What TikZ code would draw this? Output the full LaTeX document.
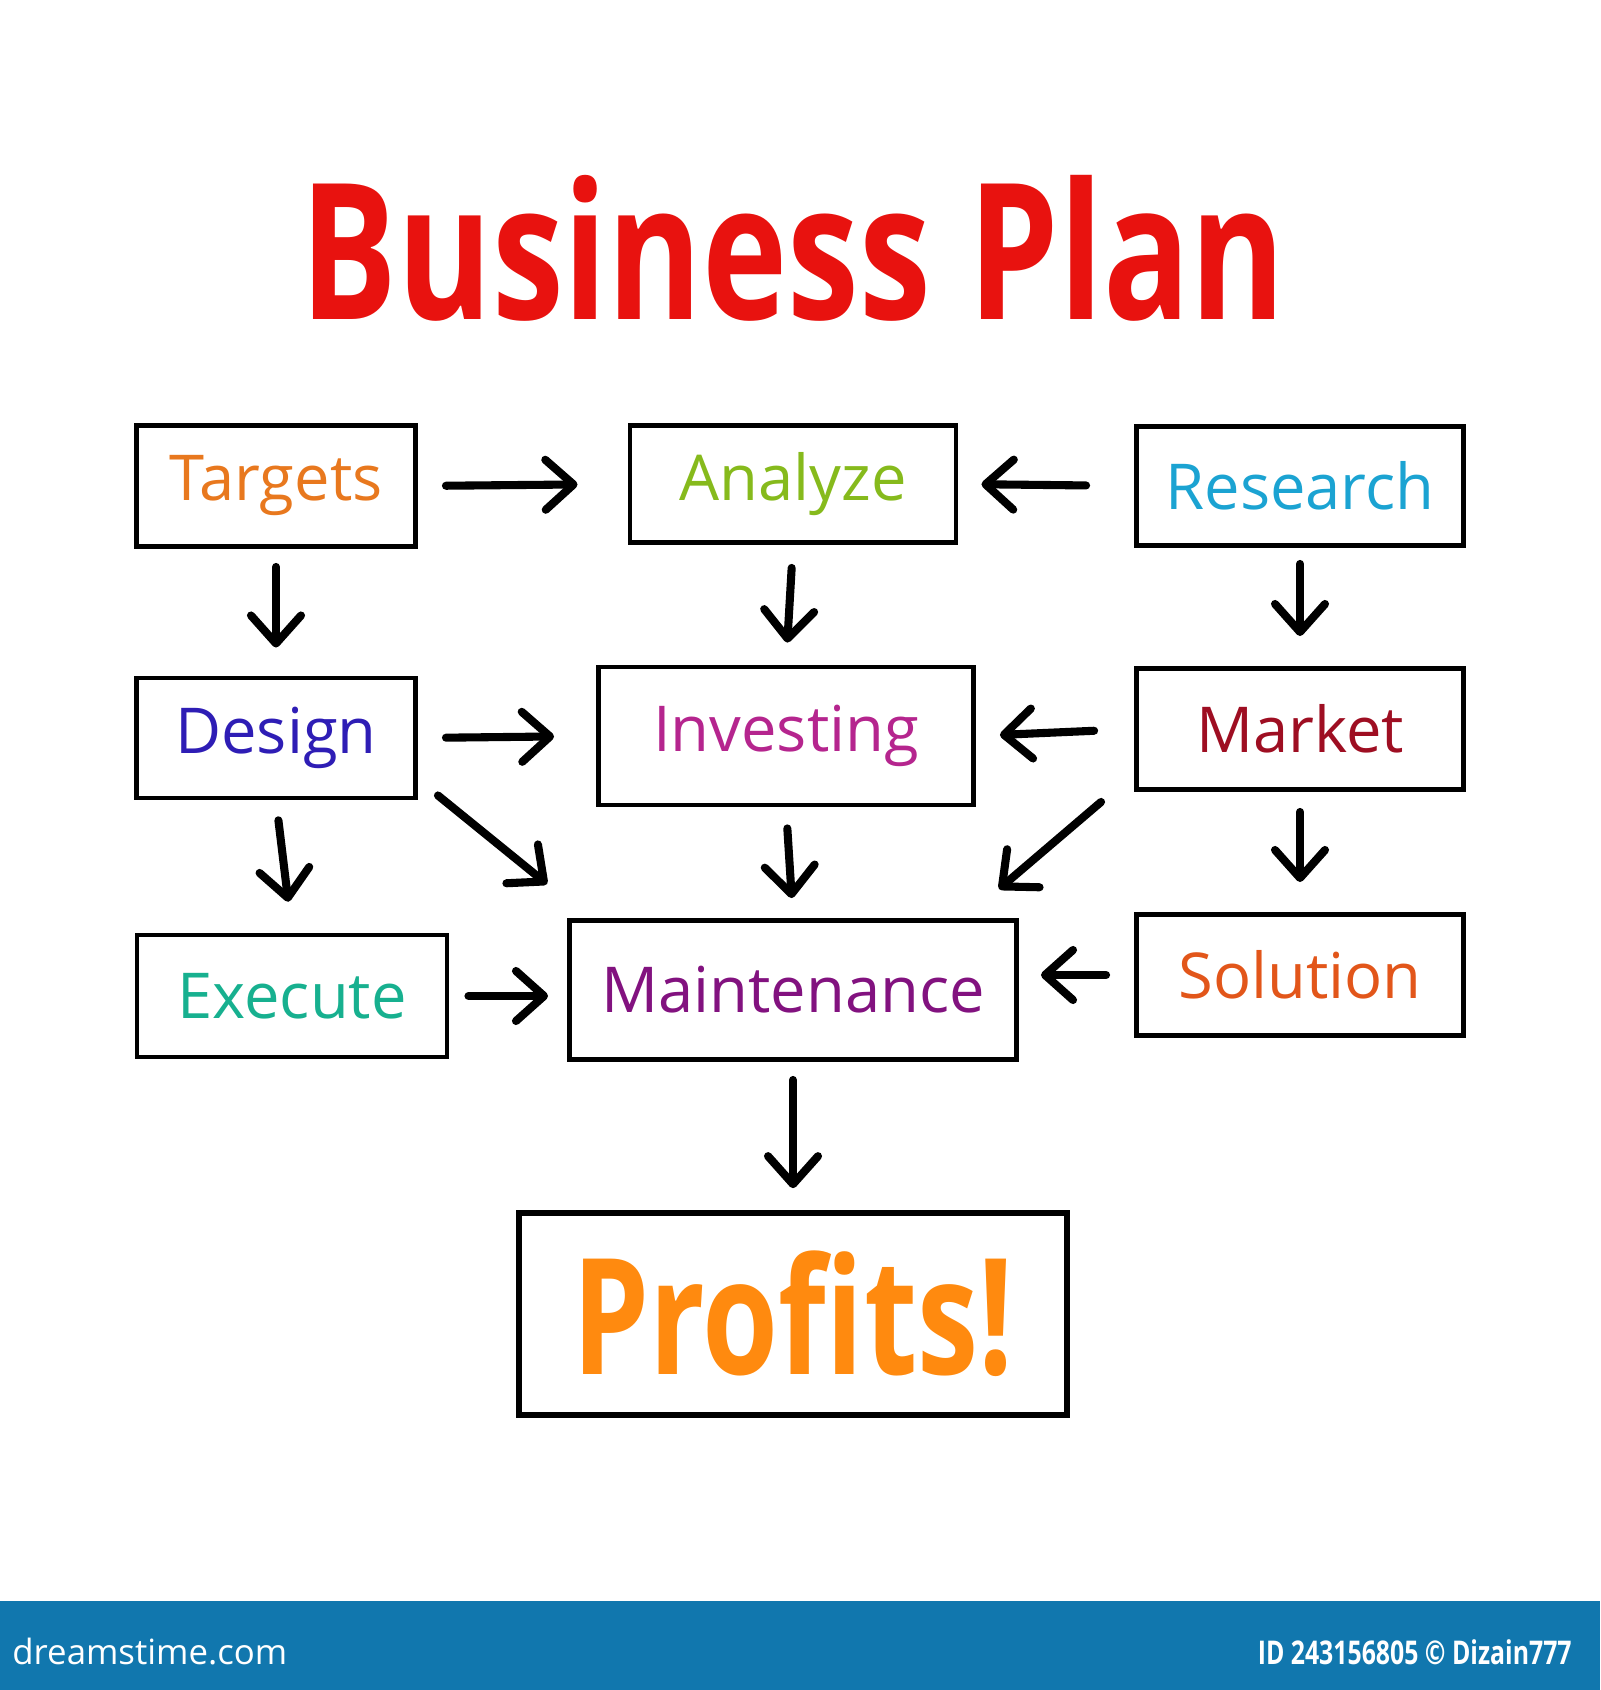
\documentclass[tikz,border=0pt]{standalone}
\usepackage{fontspec}
\usepackage{graphicx}
\setmainfont{Open Sans}
\usetikzlibrary{arrows.meta}

\definecolor{titlered}{HTML}{E8120F}
\definecolor{targetsorange}{HTML}{E8781E}
\definecolor{analyzegreen}{HTML}{86BA1C}
\definecolor{researchblue}{HTML}{1BA3D2}
\definecolor{designblue}{HTML}{2E1DB5}
\definecolor{investmagenta}{HTML}{B5258E}
\definecolor{marketred}{HTML}{9E0E22}
\definecolor{executeteal}{HTML}{17B08F}
\definecolor{maintpurple}{HTML}{82127F}
\definecolor{solutionorange}{HTML}{E2561A}
\definecolor{profitorange}{HTML}{FF8A0F}
\definecolor{barblue}{HTML}{1177AE}

\newcommand{\narrowtext}[1]{\scalebox{0.76}[1]{#1}}

\begin{document}
\begin{tikzpicture}[
    box/.style={draw=black, line width=1.4pt, inner sep=0pt, font=\fontsize{18}{20}\selectfont},
    arr/.style={line width=2.3pt, line cap=round, line join=round, -{Straight Barb[length=2.8mm,width=5mm,round]}}
  ]
    \useasboundingbox (0,0) rectangle (16,-16.9);

    % Title
    \node[anchor=base, text=titlered, font=\fontsize{54}{60}\selectfont\bfseries] (title) at (7.93,-3.2) {\narrowtext{Business Plan}};

    % First row
    \node[box, text=targetsorange, minimum width=2.79cm, minimum height=1.21cm] (targets) at (2.76,-4.86) {Targets};
    \node[box, text=analyzegreen, minimum width=3.26cm, minimum height=1.17cm] (analyze) at (7.93,-4.84) {Analyze};
    \node[box, text=researchblue, minimum width=3.27cm, minimum height=1.19cm] (research) at (13.0,-4.86) {Research};

    % Second row
    \node[box, text=designblue, minimum width=2.79cm, minimum height=1.20cm] (design) at (2.76,-7.38) {Design};
    \node[box, text=investmagenta, minimum width=3.75cm, minimum height=1.38cm] (investing) at (7.86,-7.36) {Investing};
    \node[box, text=marketred, minimum width=3.27cm, minimum height=1.21cm] (market) at (13.0,-7.29) {Market};

    % Third row
    \node[box, text=executeteal, minimum width=3.10cm, minimum height=1.22cm] (execute) at (2.92,-9.96) {Execute};
    \node[box, text=maintpurple, minimum width=4.47cm, minimum height=1.39cm] (maint) at (7.93,-9.90) {Maintenance};
    \node[box, text=solutionorange, minimum width=3.27cm, minimum height=1.21cm] (solution) at (13.0,-9.75) {Solution};

    % Result
    \node[box, line width=1.6pt, text=profitorange, minimum width=5.48cm, minimum height=2.02cm, font=\fontsize{46}{50}\selectfont\bfseries] (profits) at (7.93,-13.14) {\narrowtext{Profits!}};

    % Arrows
    \draw[arr, shorten <=0.28cm, shorten >=0.5cm] (targets.east) -- (analyze.west);
    \draw[arr, shorten <=0.48cm, shorten >=0.23cm] (research.west) -- (analyze.east);
    \draw[arr, shorten <=0.18cm, shorten >=0.28cm] (targets.south) -- (design.north);
    \draw[arr, shorten <=0.23cm, shorten >=0.22cm] (analyze.south) -- (investing.north);
    \draw[arr, shorten <=0.16cm, shorten >=0.3cm] (research.south) -- (market.north);
    \draw[arr, shorten <=0.28cm, shorten >=0.42cm] (design.east) -- (investing.west);
    \draw[arr, shorten <=0.4cm, shorten >=0.24cm] (market.west) -- (investing.east);
    \draw[arr] ([shift={(0.2,0.05)}]design.south east) -- ([shift={(-0.2,0.34)}]maint.north west);
    \draw[arr, shorten <=0.2cm, shorten >=0.31cm] (design.south) -- (execute.north);
    \draw[arr, shorten <=0.21cm, shorten >=0.2cm] (investing.south) -- (maint.north);
    \draw[arr] ([shift={(-0.33,-0.1)}]market.south west) -- ([shift={(-0.2,0.29)}]maint.north east);
    \draw[arr, shorten <=0.2cm, shorten >=0.3cm] (market.south) -- (solution.north);
    \draw[arr, shorten <=0.19cm, shorten >=0.19cm] (execute.east) -- (execute.east -| maint.west);
    \draw[arr, shorten <=0.28cm, shorten >=0.22cm] (solution.west) -- (solution.west -| maint.east);
    \draw[arr, shorten <=0.18cm, shorten >=0.22cm] (maint.south) -- (profits.north);

    % Bottom bar
    \fill[barblue] (0,-16.01) rectangle (16,-16.9);
    \node[anchor=west, text=white, font=\fontsize{9.9}{12}\selectfont] (brand) at (0.0,-16.52) {dreamstime.com};
    \node[anchor=east, text=white, font=\fontsize{9.3}{11}\selectfont\bfseries] (imgid) at (15.84,-16.52) {\narrowtext{ID 243156805 © Dizain777}};
\end{tikzpicture}
\end{document}
